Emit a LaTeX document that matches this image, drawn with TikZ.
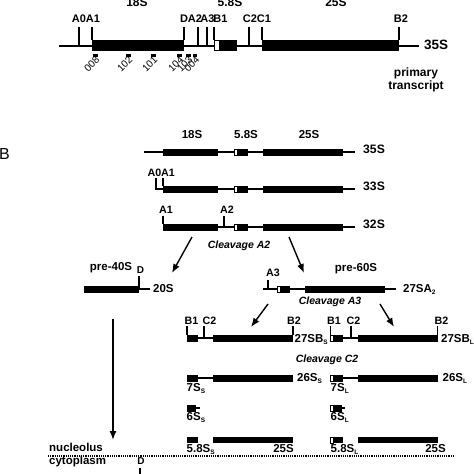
\documentclass[tikz,border=0pt]{standalone}
\usepackage{fontspec}
\setmainfont{Liberation Sans}
\usetikzlibrary{arrows.meta}
\newcommand{\fsz}[1]{\fontsize{#1}{#1}\selectfont}
\newcommand{\rsub}[1]{\textsubscript{\fsz{6.5}#1}}
\tikzstyle{arrow} = [line width=1.4pt,-{Latex[length=9pt,width=7pt]}]
\tikzstyle{rna} = [line width=1.2pt]
\tikzstyle{cut} = [line width=1.1pt]
\tikzstyle{exon} = [fill=black]
\tikzstyle{its} = [draw=black,fill=white,line width=0.6pt]
\tikzstyle{lbl} = [inner sep=0pt,font=\fsz{11.5}\bfseries]
\tikzstyle{big} = [inner sep=0pt,font=\fsz{13.5}\bfseries]
\tikzstyle{cleave} = [inner sep=0pt,font=\fsz{10.5}\bfseries\itshape]
\tikzstyle{probe} = [inner sep=0.3pt,rotate=45,anchor=east,font=\fsz{10}]

\begin{document}
\begin{tikzpicture}[x=1pt,y=-1pt]
\useasboundingbox (0,0) rectangle (474,474);

\draw [rna,line width=1.5pt] (59,46) -- (419,46);
\fill [exon] (92,40) rectangle (184,51);
\draw [its] (214,40.3) rectangle (219,50.7);
\fill [exon] (219,40) rectangle (237,51);
\fill [exon] (262,40) rectangle (399,51);
\draw [cut] (79,27) -- (79,46);
\draw [cut] (92,27) -- (92,40);
\draw [cut] (184,27) -- (184,40);
\draw [cut] (198,27) -- (198,46);
\draw [cut] (207,27) -- (207,46);
\draw [cut] (214,27) -- (214,40);
\draw [cut] (249,27) -- (249,46);
\draw [cut] (262,27) -- (262,40);
\draw [cut] (399,27) -- (399,40);

\node [big,font=\fsz{12}\bfseries,anchor=base] (A18S) at (137,6) {18S};
\node [big,font=\fsz{12}\bfseries,anchor=base] (A58S) at (230,6) {5.8S};
\node [big,font=\fsz{12}\bfseries,anchor=base] (A25S) at (336,6) {25S};
\node [lbl,font=\fsz{11}\bfseries,anchor=base] (AA0) at (79,22.7) {A0};
\node [lbl,font=\fsz{11}\bfseries,anchor=base] (AA1) at (93,22.7) {A1};
\node [lbl,font=\fsz{11}\bfseries,anchor=base] (AD) at (184,22.7) {D};
\node [lbl,font=\fsz{11}\bfseries,anchor=base] (AA2) at (195,22.7) {A2};
\node [lbl,font=\fsz{11}\bfseries,anchor=base] (AA3) at (207.5,22.7) {A3};
\node [lbl,font=\fsz{11}\bfseries,anchor=base] (AB1) at (220.5,22.7) {B1};
\node [lbl,font=\fsz{11}\bfseries,anchor=base] (AC2) at (250,22.7) {C2};
\node [lbl,font=\fsz{11}\bfseries,anchor=base] (AC1) at (264,22.7) {C1};
\node [lbl,font=\fsz{11}\bfseries,anchor=base] (AB2) at (401,22.7) {B2};
\node [big,anchor=base west] (A35S) at (424,49.3) {35S};
\node [lbl,font=\fsz{12}\bfseries,align=center] (prim) at (416,80) {primary\\[0.5pt]transcript};

\fill (93,53.5) rectangle (98,56.5);
\fill (126,53.5) rectangle (131,56.5);
\fill (151,53.5) rectangle (156,56.5);
\fill (177,53.5) rectangle (182,56.5);
\fill (186,53.5) rectangle (191,56.5);
\fill (193,53.5) rectangle (197,56.5);
\node [probe] (p008) at (98,58) {008};
\node [probe] (p102) at (131,58) {102};
\node [probe] (p101) at (156,58) {101};
\node [probe] (p104) at (182,58) {104};
\node [probe] (p103) at (191,58) {103};
\node [probe] (p004) at (198,58) {004};

\node [inner sep=0pt,font=\fsz{16},anchor=base west] (B) at (-1,159.3) {B};

\draw [rna] (144,152) -- (355,152);
\fill [exon] (163,148.5) rectangle (218,155.5);
\draw [its] (234,148.8) rectangle (237,155.2);
\fill [exon] (237,148.5) rectangle (248,155.5);
\fill [exon] (263,148.5) rectangle (343,155.5);
\node [lbl,anchor=base] (B18S) at (192,138) {18S};
\node [lbl,anchor=base] (B58S) at (246,138) {5.8S};
\node [lbl,anchor=base] (B25S) at (309,138) {25S};
\node [lbl,font=\fsz{12.2}\bfseries,anchor=base west] (B35S) at (363,153) {35S};

\draw [rna] (156,178) -- (156,189) -- (355,189);
\draw [cut] (163,178) -- (163,185.5);
\fill [exon] (163,185.5) rectangle (218,192.5);
\draw [its] (234,185.8) rectangle (237,192.2);
\fill [exon] (237,185.5) rectangle (248,192.5);
\fill [exon] (263,185.5) rectangle (343,192.5);
\node [lbl,font=\fsz{10.7}\bfseries,anchor=base] (BA0) at (154.5,176) {A0};
\node [lbl,font=\fsz{10.7}\bfseries,anchor=base] (BA1) at (168,176) {A1};
\node [lbl,font=\fsz{12.2}\bfseries,anchor=base west] (B33S) at (363,190) {33S};

\draw [cut] (163,216) -- (163,223.5);
\draw [rna] (218,227) -- (355,227);
\draw [cut] (224,216) -- (224,227);
\fill [exon] (163,223.5) rectangle (218,230.5);
\draw [its] (234,223.8) rectangle (237,230.2);
\fill [exon] (237,223.5) rectangle (248,230.5);
\fill [exon] (263,223.5) rectangle (343,230.5);
\node [lbl,font=\fsz{10.7}\bfseries,anchor=base] (BA1b) at (166,213) {A1};
\node [lbl,font=\fsz{10.7}\bfseries,anchor=base] (BA2) at (227,213) {A2};
\node [lbl,font=\fsz{12.2}\bfseries,anchor=base west] (B32S) at (363,228) {32S};

\node [cleave,anchor=base] (clA2) at (239,248) {Cleavage A2};
\coordinate (a2l) at (192,237);
\coordinate (a2le) at (172,273);
\coordinate (a2r) at (289,237);
\coordinate (a2re) at (304,273);
\draw [arrow] (a2l) -- (a2le);
\draw [arrow] (a2r) -- (a2re);

\node [lbl,anchor=base] (pre40S) at (111,270) {pre-40S};
\node [lbl,font=\fsz{10}\bfseries,anchor=base] (D20S) at (140.5,273) {D};
\fill [exon] (84,285.5) rectangle (139,292.5);
\draw [cut] (139,276) -- (139,289);
\draw [rna] (139,289) -- (150,289);
\node [lbl,anchor=base west] (B20S) at (153,292) {20S};

\node [lbl,anchor=base] (pre60S) at (356,271) {pre-60S};
\draw [rna] (263,289) -- (396,289);
\draw [cut] (268,280) -- (268,289);
\draw [its] (277,285.8) rectangle (280.5,292.2);
\fill [exon] (280.5,285.5) rectangle (290,292.5);
\fill [exon] (305,285.5) rectangle (385,292.5);
\node [lbl,font=\fsz{10.7}\bfseries,anchor=base] (BA3) at (273,276) {A3};
\node [lbl,anchor=base west] (B27SA) at (403,292.5) {27SA\rsub{2}};

\node [cleave,anchor=base] (clA3) at (330,304) {Cleavage A3};
\coordinate (a3l) at (268,304);
\coordinate (a3le) at (251,327);
\coordinate (a3r) at (380,304);
\coordinate (a3re) at (394,327);
\draw [arrow] (a3l) -- (a3le);
\draw [arrow] (a3r) -- (a3re);

\draw [cut] (187,326) -- (187,334.5);
\fill [exon] (187,334.5) rectangle (198,341.5);
\draw [rna] (198,338) -- (213,338);
\draw [cut] (204,326) -- (204,338);
\fill [exon] (213,334.5) rectangle (293,341.5);
\draw [cut] (293,326) -- (293,334.5);
\node [lbl,font=\fsz{10.7}\bfseries,anchor=base] (SB1) at (191.5,324.5) {B1};
\node [lbl,font=\fsz{10.7}\bfseries,anchor=base] (SC2) at (209.5,324.5) {C2};
\node [lbl,font=\fsz{10.7}\bfseries,anchor=base] (SB2) at (294,324.5) {B2};
\node [lbl,anchor=base west] (B27SBs) at (294.5,342.5) {27SB\rsub{S}};

\draw [cut] (330.5,326) -- (330.5,334.5);
\draw [its] (330.5,334.8) rectangle (333.3,341.2);
\fill [exon] (333.3,334.5) rectangle (343,341.5);
\draw [rna] (343,338) -- (358,338);
\draw [cut] (351,326) -- (351,338);
\fill [exon] (358,334.5) rectangle (437.5,341.5);
\draw [cut] (437.5,326) -- (437.5,334.5);
\node [lbl,font=\fsz{10.7}\bfseries,anchor=base] (LB1) at (334,324.5) {B1};
\node [lbl,font=\fsz{10.7}\bfseries,anchor=base] (LC2) at (353.5,324.5) {C2};
\node [lbl,font=\fsz{10.7}\bfseries,anchor=base] (LB2) at (441.5,324.5) {B2};
\node [lbl,anchor=base west] (B27SBl) at (441,342.5) {27SB\rsub{L}};

\node [cleave,anchor=base] (clC2) at (327,362) {Cleavage C2};

\fill [exon] (187,375) rectangle (198,381.5);
\draw [rna] (198,378) -- (213,378);
\fill [exon] (213,375) rectangle (293,381.5);
\node [lbl,anchor=base west] (B26Ss) at (297,381.5) {26S\rsub{S}};
\node [lbl,anchor=base west] (B7Ss) at (186.5,391.5) {7S\rsub{S}};
\draw [its] (330.7,375.3) rectangle (333.3,381.2);
\fill [exon] (333.3,375) rectangle (343,381.5);
\draw [rna] (343,378) -- (358,378);
\fill [exon] (358,375) rectangle (438,381.5);
\node [lbl,anchor=base west] (B26Sl) at (442.5,381.5) {26S\rsub{L}};
\node [lbl,anchor=base west] (B7Sl) at (330.5,391.5) {7S\rsub{L}};

\fill [exon] (187,405) rectangle (196,411.5);
\draw [rna] (196,408) -- (200,408);
\node [lbl,anchor=base west] (B6Ss) at (186.5,420.5) {6S\rsub{S}};
\draw [its] (330.7,405.3) rectangle (333.3,411.2);
\fill [exon] (333.3,405) rectangle (341.7,411.5);
\draw [rna] (341.7,408) -- (345,408);
\node [lbl,anchor=base west] (B6Sl) at (330.5,420.5) {6S\rsub{L}};

\fill [exon] (187,436.7) rectangle (198,443.3);
\fill [exon] (213.3,436.7) rectangle (293.3,443.3);
\node [lbl,anchor=base west] (B58Ss) at (186.5,452.5) {5.8S\rsub{S}};
\node [lbl,anchor=base east] (B25Ss) at (294,452.5) {25S};
\draw [its] (330.7,437) rectangle (333.3,443);
\fill [exon] (333.3,436.7) rectangle (342.7,443.3);
\fill [exon] (358.3,436.7) rectangle (438.3,443.3);
\node [lbl,anchor=base west] (B58Sl) at (330.5,452.5) {5.8S\rsub{L}};
\node [lbl,anchor=base east] (B25Sl) at (446,452.5) {25S};

\coordinate (d40s) at (113,319);
\coordinate (d40e) at (113,440);
\draw [arrow] (d40s) -- (d40e);
\draw [line width=1.6pt,dash pattern=on 1.1pt off 1.1pt] (48,456) -- (454,456);
\node [lbl,anchor=base west] (nucl) at (49,451.5) {nucleolus};
\node [lbl,anchor=base west] (cyto) at (49,464) {cytoplasm};
\node [lbl,font=\fsz{10}\bfseries,anchor=base] (Dcyt) at (141,464) {D};
\coordinate (dcs) at (140,468);
\coordinate (dce) at (140,476);
\draw [cut] (dcs) -- (dce);

\end{tikzpicture}
\end{document}
